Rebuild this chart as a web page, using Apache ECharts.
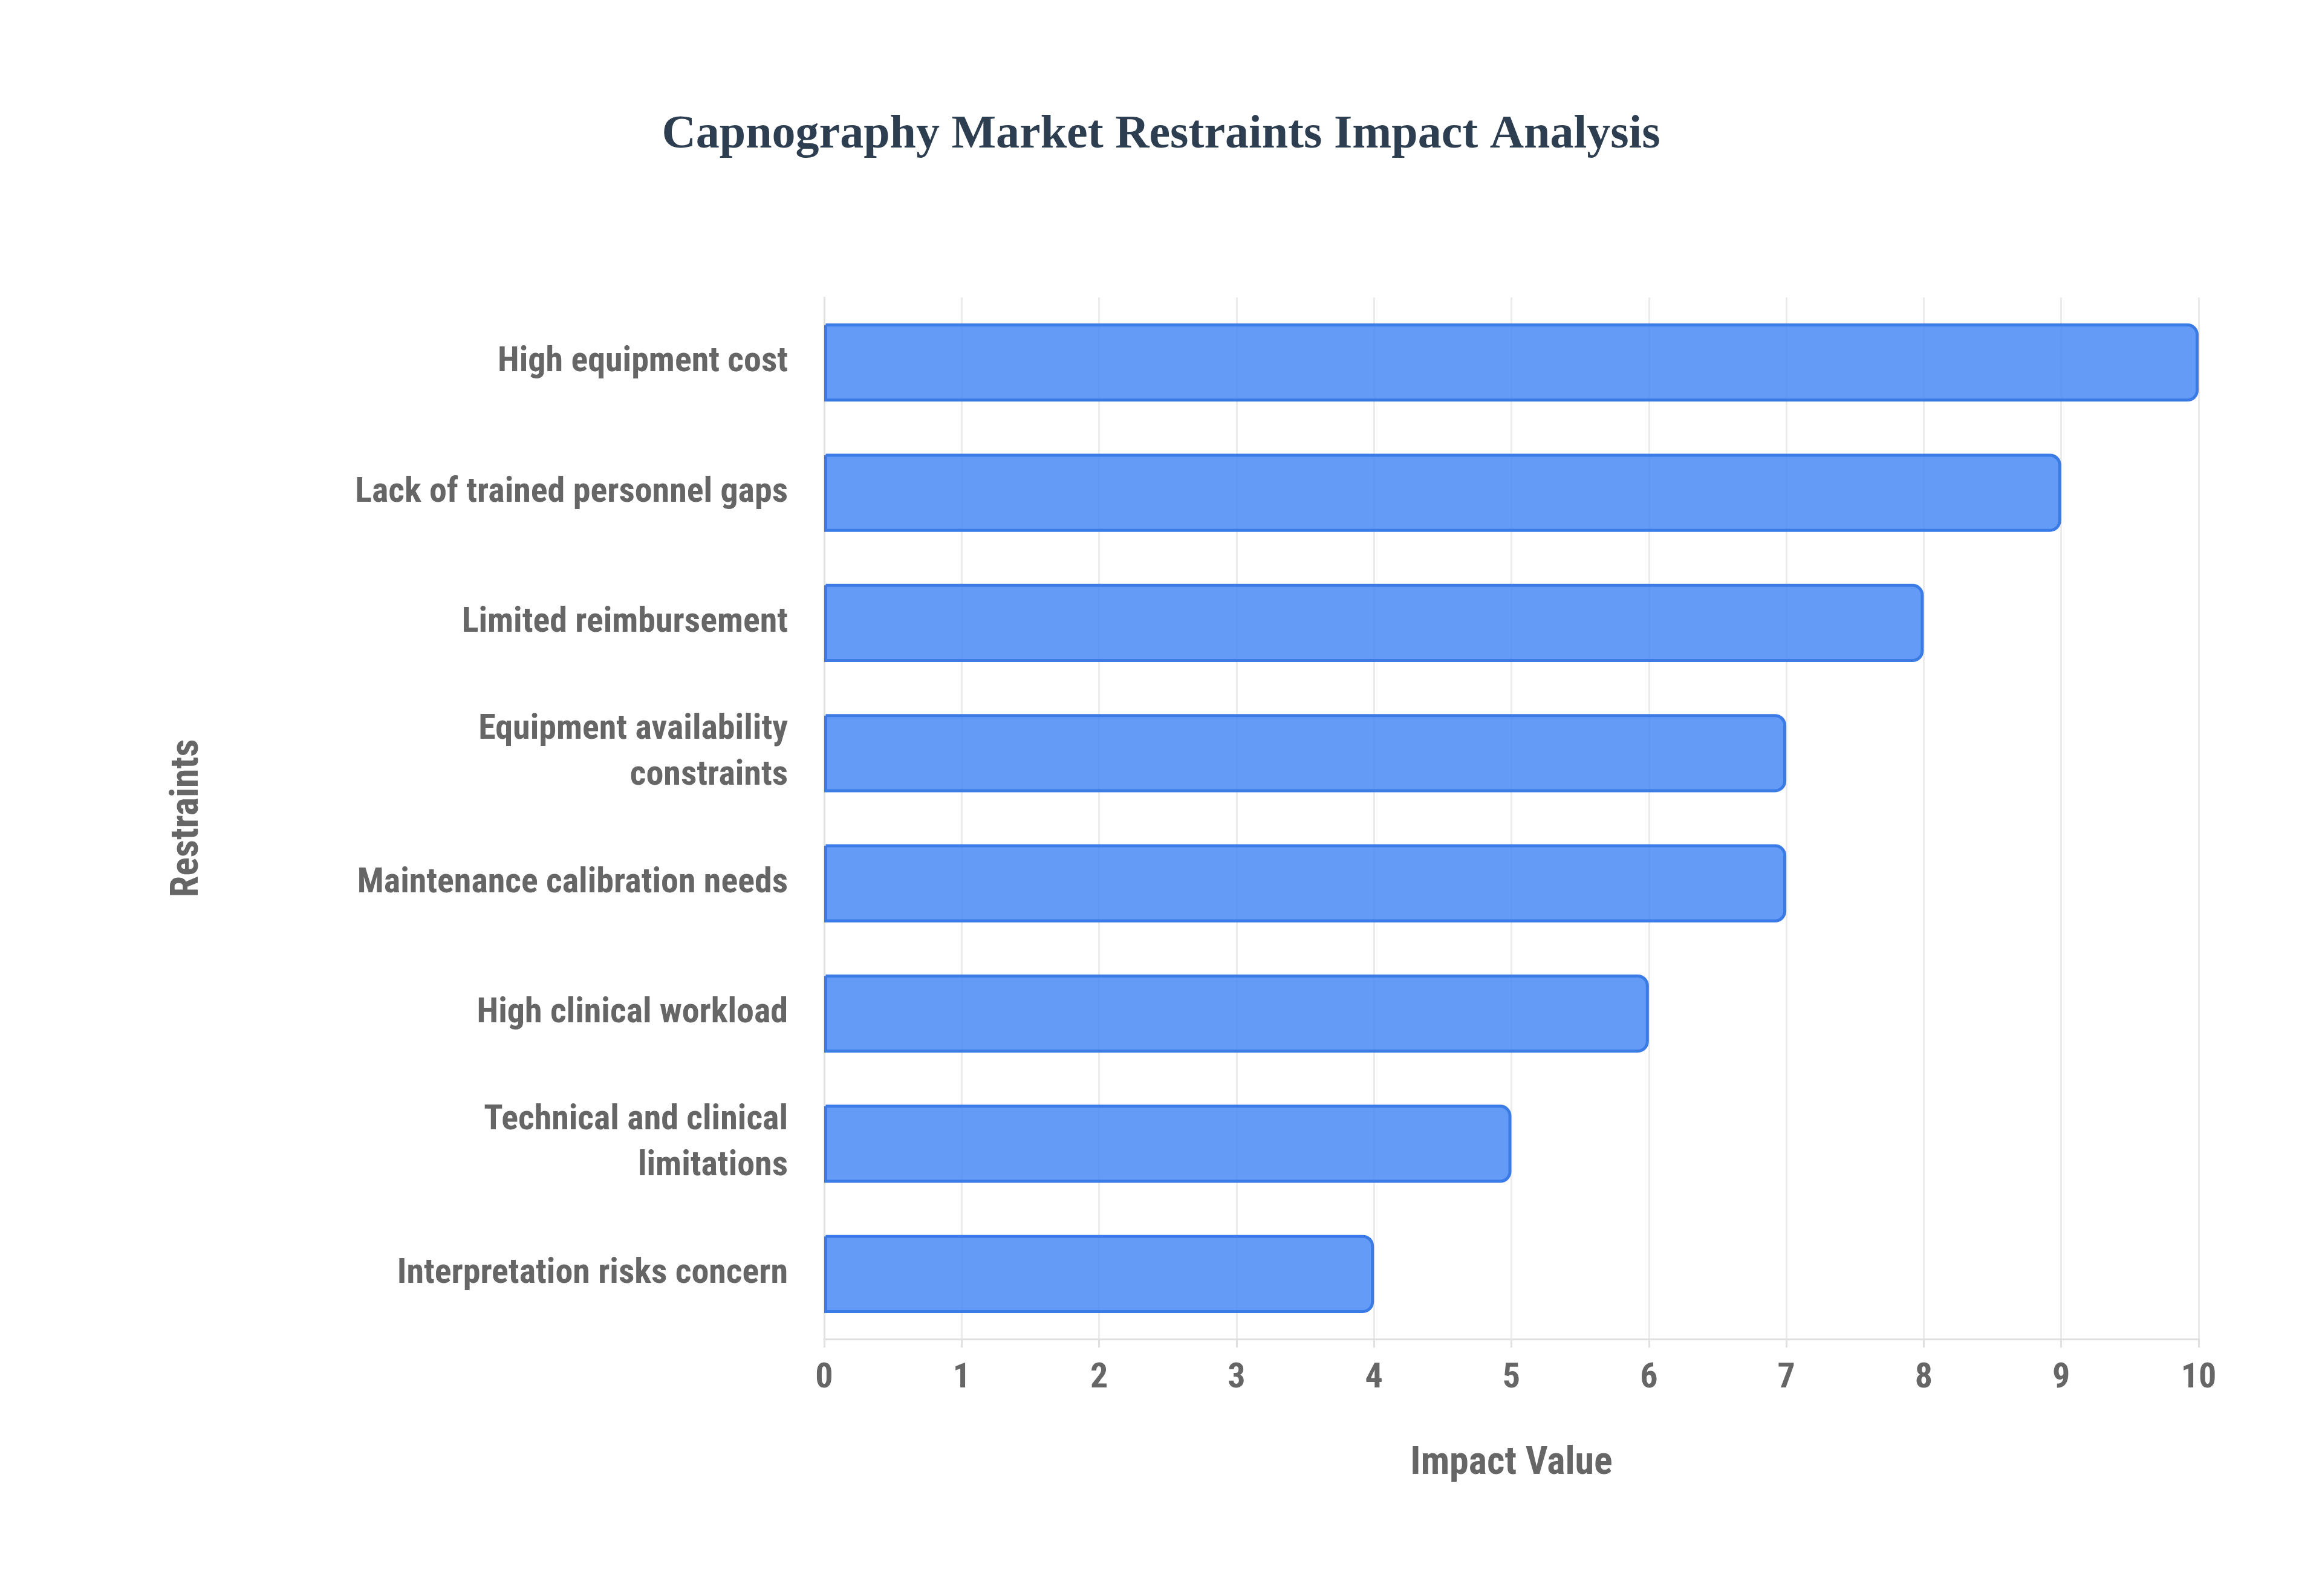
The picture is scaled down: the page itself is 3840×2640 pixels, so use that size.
<!DOCTYPE html><html><head><meta charset="utf-8"><script src="https://cdn.jsdelivr.net/npm/echarts@6/dist/echarts.min.js"></script>
<style>html,body{margin:0;background:#fff}#c{width:3840px;height:2640px}</style></head><body><div id="c"></div><script>
const categories=["High equipment cost","Lack of trained personnel gaps","Limited reimbursement","Equipment availability\nconstraints","Maintenance calibration needs","High clinical workload","Technical and clinical\nlimitations","Interpretation risks concern"];
const values=[10,9,8,7,7,6,5,4];
const xTicks=[0,1,2,3,4,5,6,7,8,9,10];
const F="'Liberation Sans Narrow','Arial Narrow','Roboto Condensed',sans-serif";
const c=echarts.init(document.getElementById('c'));
c.setOption({
title:{text:"Capnography Market Restraints Impact Analysis",left:'center',top:180,textStyle:{fontFamily:"'Liberation Serif','Times New Roman',serif",fontWeight:'bold',fontSize:78,color:'#2c3e50'}},
grid:{left:1363,right:204,top:492,bottom:425,containLabel:false},
xAxis:{type:'value',min:0,max:10,interval:1,name:'Impact Value',nameLocation:'middle',nameGap:175,
nameTextStyle:{fontFamily:F,fontWeight:'bold',fontSize:64,color:'#666'},
axisLabel:{fontFamily:F,fontWeight:'bold',fontSize:58,color:'#666',margin:36},
axisLine:{show:true,lineStyle:{color:'#e0e0e0',width:3}},axisTick:{show:true,length:14,lineStyle:{color:'#e0e0e0',width:3}},
splitLine:{lineStyle:{color:'#ebebeb',width:3}}},
yAxis:{type:'category',inverse:true,data:categories,name:'Restraints',nameLocation:'middle',nameGap:1020,nameRotate:90,
nameTextStyle:{fontFamily:F,fontWeight:'bold',fontSize:64,color:'#666'},
axisLabel:{fontFamily:F,fontWeight:'bold',fontSize:58,color:'#666',margin:60,lineHeight:76,align:'right'},
axisLine:{show:true,lineStyle:{color:'#e0e0e0',width:3}},axisTick:{show:false}},
series:[{type:'bar',data:values,barWidth:'60%',itemStyle:{color:'rgba(66,133,244,0.82)',borderColor:'#3b7be6',borderWidth:5,borderRadius:[0,16,16,0]}}]
});
</script></body></html>
